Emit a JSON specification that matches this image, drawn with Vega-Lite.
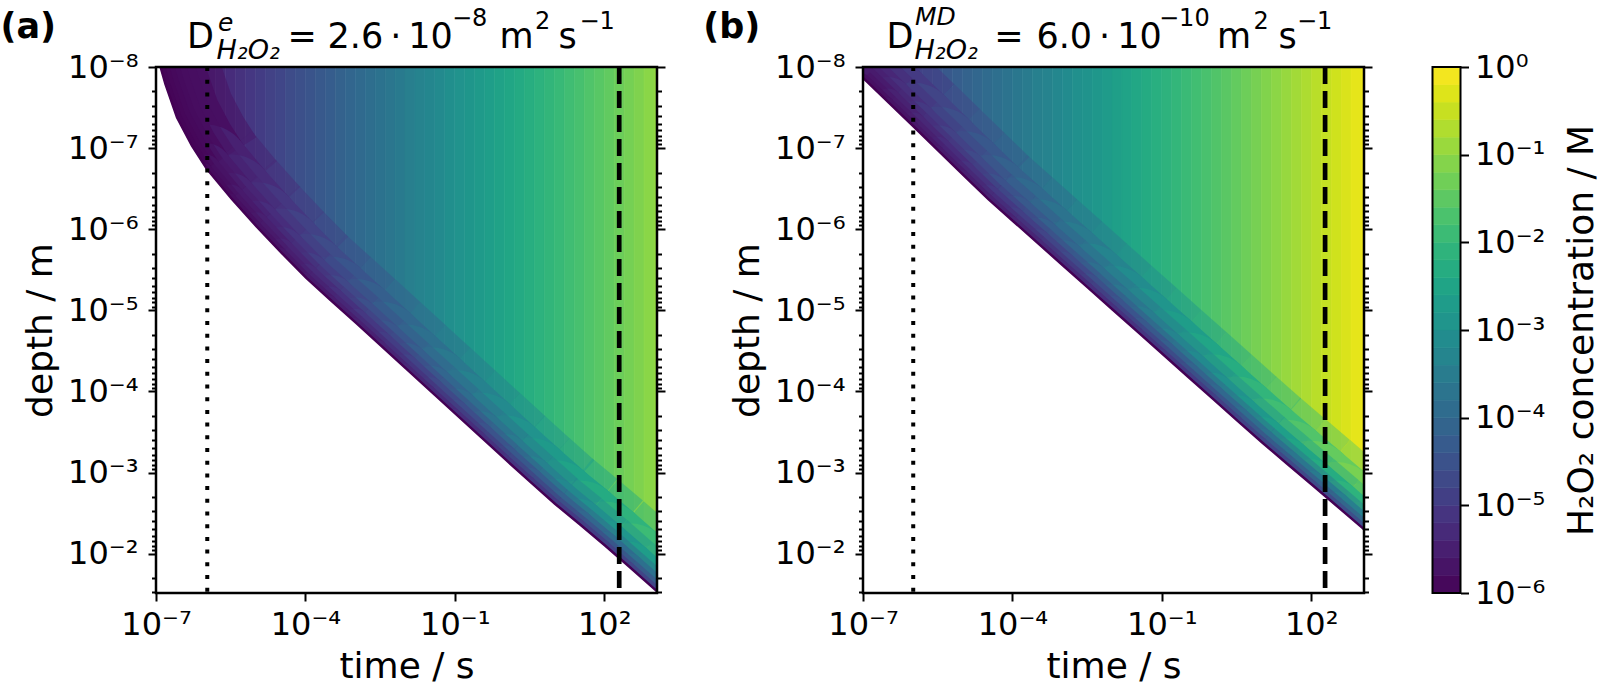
{
"$schema": "https://vega.github.io/schema/vega-lite/v6.json",
"background": "white",
"padding": {"left": 0, "top": 5, "right": 0, "bottom": 0},
"config": {
  "font": "DejaVu Sans",
  "view": {"stroke": null},
  "axis": {"labelFont": "DejaVu Sans", "titleFont": "DejaVu Sans", "labelColor": "black", "titleColor": "black", "tickColor": "black", "domain": false, "grid": false, "titleFontWeight": "normal", "labelFontSize": 32, "titleFontSize": 36, "tickWidth": 2, "labelOverlap": false, "labelFlush": false, "zindex": 1}
},
"datasets": {
  "strips": [
    {"p":"a","t0":1e-7,"t1":1.585e-7,"c":1.122e-6},{"p":"a","t0":1.585e-7,"t1":2.512e-7,"c":1.413e-6},{"p":"a","t0":2.512e-7,"t1":3.981e-7,"c":1.778e-6},{"p":"a","t0":3.981e-7,"t1":6.31e-7,"c":2.239e-6},{"p":"a","t0":6.31e-7,"t1":1e-6,"c":2.818e-6},
    {"p":"a","t0":1e-6,"t1":1.585e-6,"c":3.548e-6},{"p":"a","t0":1.585e-6,"t1":2.512e-6,"c":4.467e-6},{"p":"a","t0":2.512e-6,"t1":3.981e-6,"c":5.623e-6},{"p":"a","t0":3.981e-6,"t1":6.31e-6,"c":7.079e-6},{"p":"a","t0":6.31e-6,"t1":1e-5,"c":8.913e-6},
    {"p":"a","t0":1e-5,"t1":1.585e-5,"c":1.122e-5},{"p":"a","t0":1.585e-5,"t1":2.512e-5,"c":1.413e-5},{"p":"a","t0":2.512e-5,"t1":3.981e-5,"c":1.778e-5},{"p":"a","t0":3.981e-5,"t1":6.31e-5,"c":2.239e-5},{"p":"a","t0":6.31e-5,"t1":1e-4,"c":2.818e-5},
    {"p":"a","t0":1e-4,"t1":1.585e-4,"c":3.548e-5},{"p":"a","t0":1.585e-4,"t1":2.512e-4,"c":4.467e-5},{"p":"a","t0":2.512e-4,"t1":3.981e-4,"c":5.623e-5},{"p":"a","t0":3.981e-4,"t1":6.31e-4,"c":7.079e-5},{"p":"a","t0":6.31e-4,"t1":1e-3,"c":8.913e-5},
    {"p":"a","t0":1e-3,"t1":1.585e-3,"c":1.122e-4},{"p":"a","t0":1.585e-3,"t1":2.512e-3,"c":1.413e-4},{"p":"a","t0":2.512e-3,"t1":3.981e-3,"c":1.778e-4},{"p":"a","t0":3.981e-3,"t1":6.31e-3,"c":2.239e-4},{"p":"a","t0":6.31e-3,"t1":0.01,"c":2.818e-4},
    {"p":"a","t0":0.01,"t1":0.01585,"c":3.548e-4},{"p":"a","t0":0.01585,"t1":0.02512,"c":4.467e-4},{"p":"a","t0":0.02512,"t1":0.03981,"c":5.623e-4},{"p":"a","t0":0.03981,"t1":0.0631,"c":7.079e-4},{"p":"a","t0":0.0631,"t1":0.1,"c":8.913e-4},
    {"p":"a","t0":0.1,"t1":0.1585,"c":1.122e-3},{"p":"a","t0":0.1585,"t1":0.2512,"c":1.413e-3},{"p":"a","t0":0.2512,"t1":0.3981,"c":1.778e-3},{"p":"a","t0":0.3981,"t1":0.631,"c":2.239e-3},{"p":"a","t0":0.631,"t1":1,"c":2.818e-3},
    {"p":"a","t0":1,"t1":1.585,"c":3.548e-3},{"p":"a","t0":1.585,"t1":2.512,"c":4.467e-3},{"p":"a","t0":2.512,"t1":3.981,"c":5.623e-3},{"p":"a","t0":3.981,"t1":6.31,"c":7.079e-3},{"p":"a","t0":6.31,"t1":10,"c":8.913e-3},
    {"p":"a","t0":10,"t1":15.85,"c":0.01122},{"p":"a","t0":15.85,"t1":25.12,"c":0.01413},{"p":"a","t0":25.12,"t1":39.81,"c":0.01778},{"p":"a","t0":39.81,"t1":63.1,"c":0.02239},{"p":"a","t0":63.1,"t1":100,"c":0.02818},
    {"p":"a","t0":100,"t1":158.5,"c":0.03548},{"p":"a","t0":158.5,"t1":251.2,"c":0.04467},{"p":"a","t0":251.2,"t1":398.1,"c":0.05623},{"p":"a","t0":398.1,"t1":631,"c":0.07079},{"p":"a","t0":631,"t1":1000,"c":0.08913},
    {"p":"a","t0":1000,"t1":1148,"c":0.1035},
    {"p":"b","t0":1e-7,"t1":1.585e-7,"c":7.413e-6},{"p":"b","t0":1.585e-7,"t1":2.512e-7,"c":9.333e-6},{"p":"b","t0":2.512e-7,"t1":3.981e-7,"c":1.175e-5},{"p":"b","t0":3.981e-7,"t1":6.31e-7,"c":1.479e-5},{"p":"b","t0":6.31e-7,"t1":1e-6,"c":1.862e-5},
    {"p":"b","t0":1e-6,"t1":1.585e-6,"c":2.344e-5},{"p":"b","t0":1.585e-6,"t1":2.512e-6,"c":2.951e-5},{"p":"b","t0":2.512e-6,"t1":3.981e-6,"c":3.715e-5},{"p":"b","t0":3.981e-6,"t1":6.31e-6,"c":4.677e-5},{"p":"b","t0":6.31e-6,"t1":1e-5,"c":5.888e-5},
    {"p":"b","t0":1e-5,"t1":1.585e-5,"c":7.413e-5},{"p":"b","t0":1.585e-5,"t1":2.512e-5,"c":9.333e-5},{"p":"b","t0":2.512e-5,"t1":3.981e-5,"c":1.175e-4},{"p":"b","t0":3.981e-5,"t1":6.31e-5,"c":1.479e-4},{"p":"b","t0":6.31e-5,"t1":1e-4,"c":1.862e-4},
    {"p":"b","t0":1e-4,"t1":1.585e-4,"c":2.344e-4},{"p":"b","t0":1.585e-4,"t1":2.512e-4,"c":2.951e-4},{"p":"b","t0":2.512e-4,"t1":3.981e-4,"c":3.715e-4},{"p":"b","t0":3.981e-4,"t1":6.31e-4,"c":4.677e-4},{"p":"b","t0":6.31e-4,"t1":1e-3,"c":5.888e-4},
    {"p":"b","t0":1e-3,"t1":1.585e-3,"c":7.413e-4},{"p":"b","t0":1.585e-3,"t1":2.512e-3,"c":9.333e-4},{"p":"b","t0":2.512e-3,"t1":3.981e-3,"c":1.175e-3},{"p":"b","t0":3.981e-3,"t1":6.31e-3,"c":1.479e-3},{"p":"b","t0":6.31e-3,"t1":0.01,"c":1.862e-3},
    {"p":"b","t0":0.01,"t1":0.01585,"c":2.344e-3},{"p":"b","t0":0.01585,"t1":0.02512,"c":2.951e-3},{"p":"b","t0":0.02512,"t1":0.03981,"c":3.715e-3},{"p":"b","t0":0.03981,"t1":0.0631,"c":4.677e-3},{"p":"b","t0":0.0631,"t1":0.1,"c":5.888e-3},
    {"p":"b","t0":0.1,"t1":0.1585,"c":7.413e-3},{"p":"b","t0":0.1585,"t1":0.2512,"c":9.333e-3},{"p":"b","t0":0.2512,"t1":0.3981,"c":0.01175},{"p":"b","t0":0.3981,"t1":0.631,"c":0.01479},{"p":"b","t0":0.631,"t1":1,"c":0.01862},
    {"p":"b","t0":1,"t1":1.585,"c":0.02344},{"p":"b","t0":1.585,"t1":2.512,"c":0.02951},{"p":"b","t0":2.512,"t1":3.981,"c":0.03715},{"p":"b","t0":3.981,"t1":6.31,"c":0.04677},{"p":"b","t0":6.31,"t1":10,"c":0.05888},
    {"p":"b","t0":10,"t1":15.85,"c":0.07413},{"p":"b","t0":15.85,"t1":25.12,"c":0.09333},{"p":"b","t0":25.12,"t1":39.81,"c":0.1175},{"p":"b","t0":39.81,"t1":63.1,"c":0.1479},{"p":"b","t0":63.1,"t1":100,"c":0.1862},
    {"p":"b","t0":100,"t1":158.5,"c":0.2344},{"p":"b","t0":158.5,"t1":251.2,"c":0.2951},{"p":"b","t0":251.2,"t1":398.1,"c":0.3715},{"p":"b","t0":398.1,"t1":631,"c":0.4677},{"p":"b","t0":631,"t1":1000,"c":0.5888},
    {"p":"b","t0":1000,"t1":1148,"c":0.684}
  ],
  "band": [
    {"p":"a","s":0,"t":1e-7,"z":1e-8,"b1":1e-6,"b2":1e-6,"b3":1e-6,"b4":1e-6},
    {"p":"a","s":0,"t":1.164e-7,"z":1e-8,"b1":1e-6,"b2":1e-6,"b3":1e-6,"b4":1e-6},
    {"p":"a","s":1,"t":1.164e-7,"z":1e-8,"b1":1.66e-6,"b2":1.51e-6,"b3":1.32e-6,"b4":1.17e-6},
    {"p":"a","s":1,"t":1.466e-7,"z":1.648e-8,"b1":1.66e-6,"b2":1.51e-6,"b3":1.32e-6,"b4":1.17e-6},
    {"p":"a","s":1,"t":2.512e-7,"z":4.246e-8,"b1":1.66e-6,"b2":1.51e-6,"b3":1.32e-6,"b4":1.17e-6},
    {"p":"a","s":1,"t":5.012e-7,"z":9.506e-8,"b1":1.66e-6,"b2":1.51e-6,"b3":1.32e-6,"b4":1.17e-6},
    {"p":"a","s":1,"t":1e-6,"z":1.841e-7,"b1":1.66e-6,"b2":1.51e-6,"b3":1.32e-6,"b4":1.17e-6},
    {"p":"a","s":2,"t":1e-6,"z":1.841e-7,"b1":3.35e-6,"b2":2.66e-6,"b3":1.91e-6,"b4":1.43e-6},
    {"p":"a","s":2,"t":3.162e-6,"z":4.305e-7,"b1":3.35e-6,"b2":2.66e-6,"b3":1.91e-6,"b4":1.43e-6},
    {"p":"a","s":3,"t":3.162e-6,"z":4.305e-7,"b1":5.43e-6,"b2":3.94e-6,"b3":2.48e-6,"b4":1.66e-6},
    {"p":"a","s":3,"t":1e-5,"z":9.441e-7,"b1":5.43e-6,"b2":3.94e-6,"b3":2.48e-6,"b4":1.66e-6},
    {"p":"a","s":4,"t":1e-5,"z":9.441e-7,"b1":8.81e-6,"b2":5.82e-6,"b3":3.21e-6,"b4":1.91e-6},
    {"p":"a","s":4,"t":3.162e-5,"z":1.991e-6,"b1":8.81e-6,"b2":5.82e-6,"b3":3.21e-6,"b4":1.91e-6},
    {"p":"a","s":5,"t":3.162e-5,"z":1.991e-6,"b1":1.43e-5,"b2":8.61e-6,"b3":4.16e-6,"b4":2.21e-6},
    {"p":"a","s":5,"t":1e-4,"z":4.093e-6,"b1":1.43e-5,"b2":8.61e-6,"b3":4.16e-6,"b4":2.21e-6},
    {"p":"a","s":6,"t":1e-4,"z":4.093e-6,"b1":2.32e-5,"b2":1.27e-5,"b3":5.38e-6,"b4":2.55e-6},
    {"p":"a","s":6,"t":3.162e-4,"z":7.78e-6,"b1":2.32e-5,"b2":1.27e-5,"b3":5.38e-6,"b4":2.55e-6},
    {"p":"a","s":7,"t":3.162e-4,"z":7.78e-6,"b1":3.76e-5,"b2":1.88e-5,"b3":6.98e-6,"b4":2.94e-6},
    {"p":"a","s":7,"t":1e-3,"z":1.469e-5,"b1":3.76e-5,"b2":1.88e-5,"b3":6.98e-6,"b4":2.94e-6},
    {"p":"a","s":8,"t":1e-3,"z":1.469e-5,"b1":6.10e-5,"b2":2.79e-5,"b3":9.04e-6,"b4":3.40e-6},
    {"p":"a","s":8,"t":3.162e-3,"z":2.799e-5,"b1":6.10e-5,"b2":2.79e-5,"b3":9.04e-6,"b4":3.40e-6},
    {"p":"a","s":9,"t":3.162e-3,"z":2.799e-5,"b1":9.89e-5,"b2":4.12e-5,"b3":1.17e-5,"b4":3.93e-6},
    {"p":"a","s":9,"t":0.01,"z":5.346e-5,"b1":9.89e-5,"b2":4.12e-5,"b3":1.17e-5,"b4":3.93e-6},
    {"p":"a","s":10,"t":0.01,"z":5.346e-5,"b1":1.60e-4,"b2":6.10e-5,"b3":1.52e-5,"b4":4.53e-6},
    {"p":"a","s":10,"t":0.03162,"z":1.019e-4,"b1":1.60e-4,"b2":6.10e-5,"b3":1.52e-5,"b4":4.53e-6},
    {"p":"a","s":11,"t":0.03162,"z":1.019e-4,"b1":2.60e-4,"b2":9.02e-5,"b3":1.97e-5,"b4":5.24e-6},
    {"p":"a","s":11,"t":0.1,"z":1.945e-4,"b1":2.60e-4,"b2":9.02e-5,"b3":1.97e-5,"b4":5.24e-6},
    {"p":"a","s":12,"t":0.1,"z":1.945e-4,"b1":4.22e-4,"b2":1.33e-4,"b3":2.55e-5,"b4":6.04e-6},
    {"p":"a","s":12,"t":0.3162,"z":3.707e-4,"b1":4.22e-4,"b2":1.33e-4,"b3":2.55e-5,"b4":6.04e-6},
    {"p":"a","s":13,"t":0.3162,"z":3.707e-4,"b1":6.84e-4,"b2":1.97e-4,"b3":3.30e-5,"b4":6.98e-6},
    {"p":"a","s":13,"t":1,"z":7.079e-4,"b1":6.84e-4,"b2":1.97e-4,"b3":3.30e-5,"b4":6.98e-6},
    {"p":"a","s":14,"t":1,"z":7.079e-4,"b1":1.11e-3,"b2":2.92e-4,"b3":4.28e-5,"b4":8.05e-6},
    {"p":"a","s":14,"t":3.162,"z":1.337e-3,"b1":1.11e-3,"b2":2.92e-4,"b3":4.28e-5,"b4":8.05e-6},
    {"p":"a","s":15,"t":3.162,"z":1.337e-3,"b1":1.80e-3,"b2":4.32e-4,"b3":5.55e-5,"b4":9.31e-6},
    {"p":"a","s":15,"t":10,"z":2.512e-3,"b1":1.80e-3,"b2":4.32e-4,"b3":5.55e-5,"b4":9.31e-6},
    {"p":"a","s":16,"t":10,"z":2.512e-3,"b1":2.92e-3,"b2":6.38e-4,"b3":7.18e-5,"b4":1.07e-5},
    {"p":"a","s":16,"t":31.62,"z":4.487e-3,"b1":2.92e-3,"b2":6.38e-4,"b3":7.18e-5,"b4":1.07e-5},
    {"p":"a","s":17,"t":31.62,"z":4.487e-3,"b1":4.73e-3,"b2":9.44e-4,"b3":9.31e-5,"b4":1.24e-5},
    {"p":"a","s":17,"t":100,"z":8.147e-3,"b1":4.73e-3,"b2":9.44e-4,"b3":9.31e-5,"b4":1.24e-5},
    {"p":"a","s":18,"t":100,"z":8.147e-3,"b1":7.67e-3,"b2":1.40e-3,"b3":1.21e-4,"b4":1.43e-5},
    {"p":"a","s":18,"t":316.2,"z":0.01514,"b1":7.67e-3,"b2":1.40e-3,"b3":1.21e-4,"b4":1.43e-5},
    {"p":"a","s":19,"t":316.2,"z":0.01514,"b1":0.01245,"b2":2.07e-3,"b3":1.56e-4,"b4":1.66e-5},
    {"p":"a","s":19,"t":1000,"z":0.02831,"b1":0.01245,"b2":2.07e-3,"b3":1.56e-4,"b4":1.66e-5},
    {"p":"a","s":20,"t":1000,"z":0.02831,"b1":0.01633,"b2":2.57e-3,"b3":1.81e-4,"b4":1.79e-5},
    {"p":"a","s":20,"t":1148,"z":0.03055,"b1":0.01633,"b2":2.57e-3,"b3":1.81e-4,"b4":1.79e-5},
    {"p":"b","s":0,"t":1e-7,"z":1.429e-8,"b1":6.22e-6,"b2":4.40e-6,"b3":2.66e-6,"b4":1.72e-6},
    {"p":"b","s":0,"t":3.162e-7,"z":2.818e-8,"b1":6.22e-6,"b2":4.40e-6,"b3":2.66e-6,"b4":1.72e-6},
    {"p":"b","s":1,"t":3.162e-7,"z":2.818e-8,"b1":1.009e-5,"b2":6.50e-6,"b3":3.45e-6,"b4":1.99e-6},
    {"p":"b","s":1,"t":1e-6,"z":5.559e-8,"b1":1.009e-5,"b2":6.50e-6,"b3":3.45e-6,"b4":1.99e-6},
    {"p":"b","s":2,"t":1e-6,"z":5.559e-8,"b1":1.64e-5,"b2":9.62e-6,"b3":4.47e-6,"b4":2.30e-6},
    {"p":"b","s":2,"t":3.162e-6,"z":1.109e-7,"b1":1.64e-5,"b2":9.62e-6,"b3":4.47e-6,"b4":2.30e-6},
    {"p":"b","s":3,"t":3.162e-6,"z":1.109e-7,"b1":2.65e-5,"b2":1.42e-5,"b3":5.79e-6,"b4":2.65e-6},
    {"p":"b","s":3,"t":1e-5,"z":2.203e-7,"b1":2.65e-5,"b2":1.42e-5,"b3":5.79e-6,"b4":2.65e-6},
    {"p":"b","s":4,"t":1e-5,"z":2.203e-7,"b1":4.31e-5,"b2":2.10e-5,"b3":7.50e-6,"b4":3.06e-6},
    {"p":"b","s":4,"t":3.162e-5,"z":4.365e-7,"b1":4.31e-5,"b2":2.10e-5,"b3":7.50e-6,"b4":3.06e-6},
    {"p":"b","s":5,"t":3.162e-5,"z":4.365e-7,"b1":6.98e-5,"b2":3.11e-5,"b3":9.72e-6,"b4":3.54e-6},
    {"p":"b","s":5,"t":1e-4,"z":8.185e-7,"b1":6.98e-5,"b2":3.11e-5,"b3":9.72e-6,"b4":3.54e-6},
    {"p":"b","s":6,"t":1e-4,"z":8.185e-7,"b1":1.13e-4,"b2":4.60e-5,"b3":1.26e-5,"b4":4.08e-6},
    {"p":"b","s":6,"t":3.162e-4,"z":1.535e-6,"b1":1.13e-4,"b2":4.60e-5,"b3":1.26e-5,"b4":4.08e-6},
    {"p":"b","s":7,"t":3.162e-4,"z":1.535e-6,"b1":1.84e-4,"b2":6.81e-5,"b3":1.63e-5,"b4":4.72e-6},
    {"p":"b","s":7,"t":1e-3,"z":2.877e-6,"b1":1.84e-4,"b2":6.81e-5,"b3":1.63e-5,"b4":4.72e-6},
    {"p":"b","s":8,"t":1e-3,"z":2.877e-6,"b1":2.98e-4,"b2":1.007e-4,"b3":2.11e-5,"b4":5.44e-6},
    {"p":"b","s":8,"t":3.162e-3,"z":5.395e-6,"b1":2.98e-4,"b2":1.007e-4,"b3":2.11e-5,"b4":5.44e-6},
    {"p":"b","s":9,"t":3.162e-3,"z":5.395e-6,"b1":4.83e-4,"b2":1.49e-4,"b3":2.74e-5,"b4":6.30e-6},
    {"p":"b","s":9,"t":0.01,"z":1.012e-5,"b1":4.83e-4,"b2":1.49e-4,"b3":2.74e-5,"b4":6.30e-6},
    {"p":"b","s":10,"t":0.01,"z":1.012e-5,"b1":7.83e-4,"b2":2.20e-4,"b3":3.55e-5,"b4":7.26e-6},
    {"p":"b","s":10,"t":0.03162,"z":1.897e-5,"b1":7.83e-4,"b2":2.20e-4,"b3":3.55e-5,"b4":7.26e-6},
    {"p":"b","s":11,"t":0.03162,"z":1.897e-5,"b1":1.27e-3,"b2":3.26e-4,"b3":4.60e-5,"b4":8.39e-6},
    {"p":"b","s":11,"t":0.1,"z":3.556e-5,"b1":1.27e-3,"b2":3.26e-4,"b3":4.60e-5,"b4":8.39e-6},
    {"p":"b","s":12,"t":0.1,"z":3.556e-5,"b1":2.06e-3,"b2":4.82e-4,"b3":5.96e-5,"b4":9.68e-6},
    {"p":"b","s":12,"t":0.3162,"z":6.668e-5,"b1":2.06e-3,"b2":4.82e-4,"b3":5.96e-5,"b4":9.68e-6},
    {"p":"b","s":13,"t":0.3162,"z":6.668e-5,"b1":3.34e-3,"b2":7.13e-4,"b3":7.73e-5,"b4":1.12e-5},
    {"p":"b","s":13,"t":1,"z":1.253e-4,"b1":3.34e-3,"b2":7.13e-4,"b3":7.73e-5,"b4":1.12e-5},
    {"p":"b","s":14,"t":1,"z":1.253e-4,"b1":5.42e-3,"b2":1.055e-3,"b3":1.0e-4,"b4":1.29e-5},
    {"p":"b","s":14,"t":3.162,"z":2.35e-4,"b1":5.42e-3,"b2":1.055e-3,"b3":1.0e-4,"b4":1.29e-5},
    {"p":"b","s":15,"t":3.162,"z":2.35e-4,"b1":8.79e-3,"b2":1.56e-3,"b3":1.30e-4,"b4":1.49e-5},
    {"p":"b","s":15,"t":10,"z":4.385e-4,"b1":8.79e-3,"b2":1.56e-3,"b3":1.30e-4,"b4":1.49e-5},
    {"p":"b","s":16,"t":10,"z":4.385e-4,"b1":0.0143,"b2":2.31e-3,"b3":1.68e-4,"b4":1.72e-5},
    {"p":"b","s":16,"t":31.62,"z":8.0e-4,"b1":0.0143,"b2":2.31e-3,"b3":1.68e-4,"b4":1.72e-5},
    {"p":"b","s":17,"t":31.62,"z":8.0e-4,"b1":0.0231,"b2":3.41e-3,"b3":2.18e-4,"b4":1.99e-5},
    {"p":"b","s":17,"t":100,"z":1.455e-3,"b1":0.0231,"b2":3.41e-3,"b3":2.18e-4,"b4":1.99e-5},
    {"p":"b","s":18,"t":100,"z":1.455e-3,"b1":0.0375,"b2":5.05e-3,"b3":2.82e-4,"b4":2.30e-5},
    {"p":"b","s":18,"t":316.2,"z":2.661e-3,"b1":0.0375,"b2":5.05e-3,"b3":2.82e-4,"b4":2.30e-5},
    {"p":"b","s":19,"t":316.2,"z":2.661e-3,"b1":0.0608,"b2":7.46e-3,"b3":3.66e-4,"b4":2.65e-5},
    {"p":"b","s":19,"t":1000,"z":4.875e-3,"b1":0.0608,"b2":7.46e-3,"b3":3.66e-4,"b4":2.65e-5},
    {"p":"b","s":20,"t":1000,"z":4.875e-3,"b1":0.0796,"b2":9.29e-3,"b3":4.23e-4,"b4":2.88e-5},
    {"p":"b","s":20,"t":1148,"z":5.248e-3,"b1":0.0796,"b2":9.29e-3,"b3":4.23e-4,"b4":2.88e-5}
  ],
  "cbar": [
    {"c0":1e-6,"c1":1.585e-6,"c":1.259e-6},{"c0":1.585e-6,"c1":2.512e-6,"c":1.995e-6},{"c0":2.512e-6,"c1":3.981e-6,"c":3.162e-6},{"c0":3.981e-6,"c1":6.31e-6,"c":5.012e-6},{"c0":6.31e-6,"c1":1e-5,"c":7.943e-6},
    {"c0":1e-5,"c1":1.585e-5,"c":1.259e-5},{"c0":1.585e-5,"c1":2.512e-5,"c":1.995e-5},{"c0":2.512e-5,"c1":3.981e-5,"c":3.162e-5},{"c0":3.981e-5,"c1":6.31e-5,"c":5.012e-5},{"c0":6.31e-5,"c1":1e-4,"c":7.943e-5},
    {"c0":1e-4,"c1":1.585e-4,"c":1.259e-4},{"c0":1.585e-4,"c1":2.512e-4,"c":1.995e-4},{"c0":2.512e-4,"c1":3.981e-4,"c":3.162e-4},{"c0":3.981e-4,"c1":6.31e-4,"c":5.012e-4},{"c0":6.31e-4,"c1":1e-3,"c":7.943e-4},
    {"c0":1e-3,"c1":1.585e-3,"c":1.259e-3},{"c0":1.585e-3,"c1":2.512e-3,"c":1.995e-3},{"c0":2.512e-3,"c1":3.981e-3,"c":3.162e-3},{"c0":3.981e-3,"c1":6.31e-3,"c":5.012e-3},{"c0":6.31e-3,"c1":0.01,"c":7.943e-3},
    {"c0":0.01,"c1":0.01585,"c":0.01259},{"c0":0.01585,"c1":0.02512,"c":0.01995},{"c0":0.02512,"c1":0.03981,"c":0.03162},{"c0":0.03981,"c1":0.0631,"c":0.05012},{"c0":0.0631,"c1":0.1,"c":0.07943},
    {"c0":0.1,"c1":0.1585,"c":0.1259},{"c0":0.1585,"c1":0.2512,"c":0.1995},{"c0":0.2512,"c1":0.3981,"c":0.3162},{"c0":0.3981,"c1":0.631,"c":0.5012},{"c0":0.631,"c1":1,"c":0.7943}
  ]
},
"spacing": 68.5,
"bounds": "flush",
"hconcat": [
  {
    "width": 501, "height": 526,
    "resolve": {"axis": {"x": "independent", "y": "independent"}},
    "layer": [
      {"data": {"name": "strips"}, "transform": [{"filter": "datum.p === 'a'"}],
       "mark": {"type": "rect", "strokeWidth": 0.6},
       "encoding": {
         "x": {"field": "t0", "type": "quantitative", "scale": {"type": "log", "domain": [1e-7, 1148], "nice": false}, "axis": null},
         "x2": {"field": "t1"},
         "y": {"datum": 1e-8, "type": "quantitative", "scale": {"type": "log", "domain": [1e-8, 0.0306], "nice": false, "reverse": true}, "axis": null},
         "y2": {"datum": 0.0306},
         "color": {"field": "c", "type": "quantitative", "scale": {"type": "log", "domain": [1e-6, 1], "scheme": "viridis"}, "legend": null},
         "stroke": {"field": "c", "type": "quantitative", "scale": {"type": "log", "domain": [1e-6, 1], "scheme": "viridis"}, "legend": null}}},
      {"data": {"name": "band"}, "transform": [{"filter": "datum.p === 'a'"}],
       "mark": {"type": "line", "strokeWidth": 120, "opacity": 0.5, "strokeCap": "butt", "strokeJoin": "round", "clip": true},
       "encoding": {"x": {"field": "t", "type": "quantitative", "axis": null}, "y": {"field": "z", "type": "quantitative", "axis": null}, "detail": {"field": "s", "type": "nominal"}, "order": {"field": "t"}, "color": {"field": "b1", "type": "quantitative", "scale": {"type": "log", "domain": [1e-6, 1], "scheme": "viridis"}, "legend": null}}},
      {"data": {"name": "band"}, "transform": [{"filter": "datum.p === 'a'"}],
       "mark": {"type": "line", "strokeWidth": 90, "strokeCap": "round", "strokeJoin": "round", "clip": true},
       "encoding": {"x": {"field": "t", "type": "quantitative", "axis": null}, "y": {"field": "z", "type": "quantitative", "axis": null}, "detail": {"field": "s", "type": "nominal"}, "order": {"field": "t"}, "color": {"field": "b1", "type": "quantitative", "scale": {"type": "log", "domain": [1e-6, 1], "scheme": "viridis"}, "legend": null}}},
      {"data": {"name": "band"}, "transform": [{"filter": "datum.p === 'a'"}],
       "mark": {"type": "line", "strokeWidth": 70, "opacity": 0.5, "strokeCap": "butt", "strokeJoin": "round", "clip": true},
       "encoding": {"x": {"field": "t", "type": "quantitative", "axis": null}, "y": {"field": "z", "type": "quantitative", "axis": null}, "detail": {"field": "s", "type": "nominal"}, "order": {"field": "t"}, "color": {"field": "b2", "type": "quantitative", "scale": {"type": "log", "domain": [1e-6, 1], "scheme": "viridis"}, "legend": null}}},
      {"data": {"name": "band"}, "transform": [{"filter": "datum.p === 'a'"}],
       "mark": {"type": "line", "strokeWidth": 53, "strokeCap": "round", "strokeJoin": "round", "clip": true},
       "encoding": {"x": {"field": "t", "type": "quantitative", "axis": null}, "y": {"field": "z", "type": "quantitative", "axis": null}, "detail": {"field": "s", "type": "nominal"}, "order": {"field": "t"}, "color": {"field": "b2", "type": "quantitative", "scale": {"type": "log", "domain": [1e-6, 1], "scheme": "viridis"}, "legend": null}}},
      {"data": {"name": "band"}, "transform": [{"filter": "datum.p === 'a'"}],
       "mark": {"type": "line", "strokeWidth": 40, "opacity": 0.5, "strokeCap": "butt", "strokeJoin": "round", "clip": true},
       "encoding": {"x": {"field": "t", "type": "quantitative", "axis": null}, "y": {"field": "z", "type": "quantitative", "axis": null}, "detail": {"field": "s", "type": "nominal"}, "order": {"field": "t"}, "color": {"field": "b3", "type": "quantitative", "scale": {"type": "log", "domain": [1e-6, 1], "scheme": "viridis"}, "legend": null}}},
      {"data": {"name": "band"}, "transform": [{"filter": "datum.p === 'a'"}],
       "mark": {"type": "line", "strokeWidth": 30, "strokeCap": "round", "strokeJoin": "round", "clip": true},
       "encoding": {"x": {"field": "t", "type": "quantitative", "axis": null}, "y": {"field": "z", "type": "quantitative", "axis": null}, "detail": {"field": "s", "type": "nominal"}, "order": {"field": "t"}, "color": {"field": "b3", "type": "quantitative", "scale": {"type": "log", "domain": [1e-6, 1], "scheme": "viridis"}, "legend": null}}},
      {"data": {"name": "band"}, "transform": [{"filter": "datum.p === 'a'"}],
       "mark": {"type": "line", "strokeWidth": 20, "opacity": 0.5, "strokeCap": "butt", "strokeJoin": "round", "clip": true},
       "encoding": {"x": {"field": "t", "type": "quantitative", "axis": null}, "y": {"field": "z", "type": "quantitative", "axis": null}, "detail": {"field": "s", "type": "nominal"}, "order": {"field": "t"}, "color": {"field": "b4", "type": "quantitative", "scale": {"type": "log", "domain": [1e-6, 1], "scheme": "viridis"}, "legend": null}}},
      {"data": {"name": "band"}, "transform": [{"filter": "datum.p === 'a'"}],
       "mark": {"type": "line", "strokeWidth": 12, "strokeCap": "round", "strokeJoin": "round", "clip": true},
       "encoding": {"x": {"field": "t", "type": "quantitative", "axis": null}, "y": {"field": "z", "type": "quantitative", "axis": null}, "detail": {"field": "s", "type": "nominal"}, "order": {"field": "t"}, "color": {"field": "b4", "type": "quantitative", "scale": {"type": "log", "domain": [1e-6, 1], "scheme": "viridis"}, "legend": null}}},
      {"data": {"name": "band"}, "transform": [{"filter": "datum.p === 'a'"}],
       "mark": {"type": "line", "strokeWidth": 5, "strokeCap": "round", "strokeJoin": "round", "clip": true},
       "encoding": {"x": {"field": "t", "type": "quantitative", "axis": null},
         "y": {"field": "z", "type": "quantitative", "axis": {"orient": "right", "values": [1e-8,2e-8,3e-8,4e-8,5e-8,6e-8,7e-8,8e-8,9e-8,1e-7,2e-7,3e-7,4e-7,5e-7,6e-7,7e-7,8e-7,9e-7,1e-6,2e-6,3e-6,4e-6,5e-6,6e-6,7e-6,8e-6,9e-6,1e-5,2e-5,3e-5,4e-5,5e-5,6e-5,7e-5,8e-5,9e-5,1e-4,2e-4,3e-4,4e-4,5e-4,6e-4,7e-4,8e-4,9e-4,0.001,0.002,0.003,0.004,0.005,0.006,0.007,0.008,0.009,0.01,0.02,0.03], "labels": false, "title": null, "tickSize": {"condition": {"test": "abs(log(datum.value)/LN10-round(log(datum.value)/LN10))<0.01", "value": 8}, "value": 4.5}}},
         "order": {"field": "t"}, "color": {"datum": 1e-6, "type": "quantitative", "scale": {"type": "log", "domain": [1e-6, 1], "scheme": "viridis"}, "legend": null}}},
      {"data": {"name": "band"}, "transform": [{"filter": "datum.p === 'a'"}],
       "mark": {"type": "area", "fill": "white", "fillOpacity": 1, "opacity": 1, "clip": true},
       "encoding": {
         "x": {"field": "t", "type": "quantitative", "axis": {"orient": "bottom", "values": [1e-7, 1e-4, 0.1, 100], "labelExpr": "datum.value < 1e-6 ? '10⁻⁷' : datum.value < 1e-3 ? '10⁻⁴' : datum.value < 1 ? '10⁻¹' : '10²'", "tickSize": 8, "labelPadding": 8, "title": "time / s", "titlePadding": 9}},
         "y": {"field": "z", "type": "quantitative", "axis": {"orient": "left", "values": [1e-8,2e-8,3e-8,4e-8,5e-8,6e-8,7e-8,8e-8,9e-8,1e-7,2e-7,3e-7,4e-7,5e-7,6e-7,7e-7,8e-7,9e-7,1e-6,2e-6,3e-6,4e-6,5e-6,6e-6,7e-6,8e-6,9e-6,1e-5,2e-5,3e-5,4e-5,5e-5,6e-5,7e-5,8e-5,9e-5,1e-4,2e-4,3e-4,4e-4,5e-4,6e-4,7e-4,8e-4,9e-4,0.001,0.002,0.003,0.004,0.005,0.006,0.007,0.008,0.009,0.01,0.02,0.03], "labelExpr": "abs(log(datum.value)/LN10-round(log(datum.value)/LN10))<0.01 ? ['10⁻⁸','10⁻⁷','10⁻⁶','10⁻⁵','10⁻⁴','10⁻³','10⁻²'][round(log(datum.value)/LN10)+8] : ''", "tickSize": {"condition": {"test": "abs(log(datum.value)/LN10-round(log(datum.value)/LN10))<0.01", "value": 8}, "value": 4.5}, "labelPadding": 10, "title": "depth / m", "titlePadding": 8}},
         "y2": {"datum": 0.0306}}},
      {"data": {"values": [{}]}, "mark": {"type": "rule", "color": "black", "strokeWidth": 4, "strokeDash": [4, 8.7]}, "encoding": {"x": {"datum": 1.07e-6, "axis": null}}},
      {"data": {"values": [{}]}, "mark": {"type": "rule", "color": "black", "strokeWidth": 4.7, "strokeDash": [17, 7]}, "encoding": {"x": {"datum": 200, "axis": null}}},
      {"data": {"values": [{}]}, "mark": {"type": "rect", "filled": false, "color": "black", "strokeWidth": 2.5}, "encoding": {}},
      {"data": {"values": [{}]}, "mark": {"type": "text", "text": "(a)", "fontSize": 35, "fontWeight": "bold", "align": "left", "baseline": "alphabetic", "dx": -155.5, "dy": -29, "color": "black"}, "encoding": {"x": {"datum": 1e-7, "axis": null}, "y": {"datum": 1e-8, "axis": null}}},
      {"data": {"values": [{}]}, "mark": {"type": "text", "text": "D", "fontSize": 35, "align": "left", "baseline": "alphabetic", "dx": 30.9, "dy": -18.7, "color": "black"}, "encoding": {"x": {"datum": 1e-7, "axis": null}, "y": {"datum": 1e-8, "axis": null}}},
      {"data": {"values": [{}]}, "mark": {"type": "text", "text": "e", "fontSize": 25, "fontStyle": "italic", "align": "left", "baseline": "alphabetic", "dx": 62, "dy": -35.7, "color": "black"}, "encoding": {"x": {"datum": 1e-7, "axis": null}, "y": {"datum": 1e-8, "axis": null}}},
      {"data": {"values": [{}]}, "mark": {"type": "text", "text": "H₂O₂", "fontSize": 27, "fontStyle": "italic", "align": "left", "baseline": "alphabetic", "dx": 60.5, "dy": -7.7, "color": "black"}, "encoding": {"x": {"datum": 1e-7, "axis": null}, "y": {"datum": 1e-8, "axis": null}}},
      {"data": {"values": [{}]}, "mark": {"type": "text", "text": "=", "fontSize": 35, "align": "left", "baseline": "alphabetic", "dx": 131.5, "dy": -18.7, "color": "black"}, "encoding": {"x": {"datum": 1e-7, "axis": null}, "y": {"datum": 1e-8, "axis": null}}},
      {"data": {"values": [{}]}, "mark": {"type": "text", "text": "2.6\u2009·\u200910", "fontSize": 35, "align": "left", "baseline": "alphabetic", "dx": 171.5, "dy": -18.7, "color": "black"}, "encoding": {"x": {"datum": 1e-7, "axis": null}, "y": {"datum": 1e-8, "axis": null}}},
      {"data": {"values": [{}]}, "mark": {"type": "text", "text": "−8", "fontSize": 24, "align": "left", "baseline": "alphabetic", "dx": 296, "dy": -40.7, "color": "black"}, "encoding": {"x": {"datum": 1e-7, "axis": null}, "y": {"datum": 1e-8, "axis": null}}},
      {"data": {"values": [{}]}, "mark": {"type": "text", "text": "m", "fontSize": 35, "align": "left", "baseline": "alphabetic", "dx": 343.5, "dy": -18.7, "color": "black"}, "encoding": {"x": {"datum": 1e-7, "axis": null}, "y": {"datum": 1e-8, "axis": null}}},
      {"data": {"values": [{}]}, "mark": {"type": "text", "text": "2", "fontSize": 24, "align": "left", "baseline": "alphabetic", "dx": 379, "dy": -37.7, "color": "black"}, "encoding": {"x": {"datum": 1e-7, "axis": null}, "y": {"datum": 1e-8, "axis": null}}},
      {"data": {"values": [{}]}, "mark": {"type": "text", "text": "s", "fontSize": 35, "align": "left", "baseline": "alphabetic", "dx": 402.5, "dy": -18.7, "color": "black"}, "encoding": {"x": {"datum": 1e-7, "axis": null}, "y": {"datum": 1e-8, "axis": null}}},
      {"data": {"values": [{}]}, "mark": {"type": "text", "text": "−1", "fontSize": 24, "align": "left", "baseline": "alphabetic", "dx": 423.5, "dy": -37.7, "color": "black"}, "encoding": {"x": {"datum": 1e-7, "axis": null}, "y": {"datum": 1e-8, "axis": null}}}
    ]
  },
  {"width": 69, "height": 526, "data": {"values": []}, "mark": "point"},
  {
    "width": 501, "height": 526,
    "resolve": {"axis": {"x": "independent", "y": "independent"}},
    "layer": [
      {"data": {"name": "strips"}, "transform": [{"filter": "datum.p === 'b'"}],
       "mark": {"type": "rect", "strokeWidth": 0.6},
       "encoding": {
         "x": {"field": "t0", "type": "quantitative", "scale": {"type": "log", "domain": [1e-7, 1148], "nice": false}, "axis": null},
         "x2": {"field": "t1"},
         "y": {"datum": 1e-8, "type": "quantitative", "scale": {"type": "log", "domain": [1e-8, 0.0306], "nice": false, "reverse": true}, "axis": null},
         "y2": {"datum": 0.0306},
         "color": {"field": "c", "type": "quantitative", "scale": {"type": "log", "domain": [1e-6, 1], "scheme": "viridis"}, "legend": null},
         "stroke": {"field": "c", "type": "quantitative", "scale": {"type": "log", "domain": [1e-6, 1], "scheme": "viridis"}, "legend": null}}},
      {"data": {"name": "band"}, "transform": [{"filter": "datum.p === 'b'"}],
       "mark": {"type": "line", "strokeWidth": 120, "opacity": 0.5, "strokeCap": "butt", "strokeJoin": "round", "clip": true},
       "encoding": {"x": {"field": "t", "type": "quantitative", "axis": null}, "y": {"field": "z", "type": "quantitative", "axis": null}, "detail": {"field": "s", "type": "nominal"}, "order": {"field": "t"}, "color": {"field": "b1", "type": "quantitative", "scale": {"type": "log", "domain": [1e-6, 1], "scheme": "viridis"}, "legend": null}}},
      {"data": {"name": "band"}, "transform": [{"filter": "datum.p === 'b'"}],
       "mark": {"type": "line", "strokeWidth": 90, "strokeCap": "round", "strokeJoin": "round", "clip": true},
       "encoding": {"x": {"field": "t", "type": "quantitative", "axis": null}, "y": {"field": "z", "type": "quantitative", "axis": null}, "detail": {"field": "s", "type": "nominal"}, "order": {"field": "t"}, "color": {"field": "b1", "type": "quantitative", "scale": {"type": "log", "domain": [1e-6, 1], "scheme": "viridis"}, "legend": null}}},
      {"data": {"name": "band"}, "transform": [{"filter": "datum.p === 'b'"}],
       "mark": {"type": "line", "strokeWidth": 70, "opacity": 0.5, "strokeCap": "butt", "strokeJoin": "round", "clip": true},
       "encoding": {"x": {"field": "t", "type": "quantitative", "axis": null}, "y": {"field": "z", "type": "quantitative", "axis": null}, "detail": {"field": "s", "type": "nominal"}, "order": {"field": "t"}, "color": {"field": "b2", "type": "quantitative", "scale": {"type": "log", "domain": [1e-6, 1], "scheme": "viridis"}, "legend": null}}},
      {"data": {"name": "band"}, "transform": [{"filter": "datum.p === 'b'"}],
       "mark": {"type": "line", "strokeWidth": 53, "strokeCap": "round", "strokeJoin": "round", "clip": true},
       "encoding": {"x": {"field": "t", "type": "quantitative", "axis": null}, "y": {"field": "z", "type": "quantitative", "axis": null}, "detail": {"field": "s", "type": "nominal"}, "order": {"field": "t"}, "color": {"field": "b2", "type": "quantitative", "scale": {"type": "log", "domain": [1e-6, 1], "scheme": "viridis"}, "legend": null}}},
      {"data": {"name": "band"}, "transform": [{"filter": "datum.p === 'b'"}],
       "mark": {"type": "line", "strokeWidth": 40, "opacity": 0.5, "strokeCap": "butt", "strokeJoin": "round", "clip": true},
       "encoding": {"x": {"field": "t", "type": "quantitative", "axis": null}, "y": {"field": "z", "type": "quantitative", "axis": null}, "detail": {"field": "s", "type": "nominal"}, "order": {"field": "t"}, "color": {"field": "b3", "type": "quantitative", "scale": {"type": "log", "domain": [1e-6, 1], "scheme": "viridis"}, "legend": null}}},
      {"data": {"name": "band"}, "transform": [{"filter": "datum.p === 'b'"}],
       "mark": {"type": "line", "strokeWidth": 30, "strokeCap": "round", "strokeJoin": "round", "clip": true},
       "encoding": {"x": {"field": "t", "type": "quantitative", "axis": null}, "y": {"field": "z", "type": "quantitative", "axis": null}, "detail": {"field": "s", "type": "nominal"}, "order": {"field": "t"}, "color": {"field": "b3", "type": "quantitative", "scale": {"type": "log", "domain": [1e-6, 1], "scheme": "viridis"}, "legend": null}}},
      {"data": {"name": "band"}, "transform": [{"filter": "datum.p === 'b'"}],
       "mark": {"type": "line", "strokeWidth": 20, "opacity": 0.5, "strokeCap": "butt", "strokeJoin": "round", "clip": true},
       "encoding": {"x": {"field": "t", "type": "quantitative", "axis": null}, "y": {"field": "z", "type": "quantitative", "axis": null}, "detail": {"field": "s", "type": "nominal"}, "order": {"field": "t"}, "color": {"field": "b4", "type": "quantitative", "scale": {"type": "log", "domain": [1e-6, 1], "scheme": "viridis"}, "legend": null}}},
      {"data": {"name": "band"}, "transform": [{"filter": "datum.p === 'b'"}],
       "mark": {"type": "line", "strokeWidth": 12, "strokeCap": "round", "strokeJoin": "round", "clip": true},
       "encoding": {"x": {"field": "t", "type": "quantitative", "axis": null}, "y": {"field": "z", "type": "quantitative", "axis": null}, "detail": {"field": "s", "type": "nominal"}, "order": {"field": "t"}, "color": {"field": "b4", "type": "quantitative", "scale": {"type": "log", "domain": [1e-6, 1], "scheme": "viridis"}, "legend": null}}},
      {"data": {"name": "band"}, "transform": [{"filter": "datum.p === 'b'"}],
       "mark": {"type": "line", "strokeWidth": 5, "strokeCap": "round", "strokeJoin": "round", "clip": true},
       "encoding": {"x": {"field": "t", "type": "quantitative", "axis": null},
         "y": {"field": "z", "type": "quantitative", "axis": {"orient": "right", "values": [1e-8,2e-8,3e-8,4e-8,5e-8,6e-8,7e-8,8e-8,9e-8,1e-7,2e-7,3e-7,4e-7,5e-7,6e-7,7e-7,8e-7,9e-7,1e-6,2e-6,3e-6,4e-6,5e-6,6e-6,7e-6,8e-6,9e-6,1e-5,2e-5,3e-5,4e-5,5e-5,6e-5,7e-5,8e-5,9e-5,1e-4,2e-4,3e-4,4e-4,5e-4,6e-4,7e-4,8e-4,9e-4,0.001,0.002,0.003,0.004,0.005,0.006,0.007,0.008,0.009,0.01,0.02,0.03], "labels": false, "title": null, "tickSize": {"condition": {"test": "abs(log(datum.value)/LN10-round(log(datum.value)/LN10))<0.01", "value": 8}, "value": 4.5}}},
         "order": {"field": "t"}, "color": {"datum": 1e-6, "type": "quantitative", "scale": {"type": "log", "domain": [1e-6, 1], "scheme": "viridis"}, "legend": null}}},
      {"data": {"name": "band"}, "transform": [{"filter": "datum.p === 'b'"}],
       "mark": {"type": "area", "fill": "white", "fillOpacity": 1, "opacity": 1, "clip": true},
       "encoding": {
         "x": {"field": "t", "type": "quantitative", "axis": {"orient": "bottom", "values": [1e-7, 1e-4, 0.1, 100], "labelExpr": "datum.value < 1e-6 ? '10⁻⁷' : datum.value < 1e-3 ? '10⁻⁴' : datum.value < 1 ? '10⁻¹' : '10²'", "tickSize": 8, "labelPadding": 8, "title": "time / s", "titlePadding": 9}},
         "y": {"field": "z", "type": "quantitative", "axis": {"orient": "left", "values": [1e-8,2e-8,3e-8,4e-8,5e-8,6e-8,7e-8,8e-8,9e-8,1e-7,2e-7,3e-7,4e-7,5e-7,6e-7,7e-7,8e-7,9e-7,1e-6,2e-6,3e-6,4e-6,5e-6,6e-6,7e-6,8e-6,9e-6,1e-5,2e-5,3e-5,4e-5,5e-5,6e-5,7e-5,8e-5,9e-5,1e-4,2e-4,3e-4,4e-4,5e-4,6e-4,7e-4,8e-4,9e-4,0.001,0.002,0.003,0.004,0.005,0.006,0.007,0.008,0.009,0.01,0.02,0.03], "labelExpr": "abs(log(datum.value)/LN10-round(log(datum.value)/LN10))<0.01 ? ['10⁻⁸','10⁻⁷','10⁻⁶','10⁻⁵','10⁻⁴','10⁻³','10⁻²'][round(log(datum.value)/LN10)+8] : ''", "tickSize": {"condition": {"test": "abs(log(datum.value)/LN10-round(log(datum.value)/LN10))<0.01", "value": 8}, "value": 4.5}, "labelPadding": 10, "title": "depth / m", "titlePadding": 8}},
         "y2": {"datum": 0.0306}}},
      {"data": {"values": [{}]}, "mark": {"type": "rule", "color": "black", "strokeWidth": 4, "strokeDash": [4, 8.7]}, "encoding": {"x": {"datum": 1.02e-6, "axis": null}}},
      {"data": {"values": [{}]}, "mark": {"type": "rule", "color": "black", "strokeWidth": 4.7, "strokeDash": [17, 7]}, "encoding": {"x": {"datum": 190, "axis": null}}},
      {"data": {"values": [{}]}, "mark": {"type": "rect", "filled": false, "color": "black", "strokeWidth": 2.5}, "encoding": {}},
      {"data": {"values": [{}]}, "mark": {"type": "text", "text": "(b)", "fontSize": 35, "fontWeight": "bold", "align": "left", "baseline": "alphabetic", "dx": -159.8, "dy": -29, "color": "black"}, "encoding": {"x": {"datum": 1e-7, "axis": null}, "y": {"datum": 1e-8, "axis": null}}},
      {"data": {"values": [{}]}, "mark": {"type": "text", "text": "D", "fontSize": 35, "align": "left", "baseline": "alphabetic", "dx": 23.5, "dy": -18.7, "color": "black"}, "encoding": {"x": {"datum": 1e-7, "axis": null}, "y": {"datum": 1e-8, "axis": null}}},
      {"data": {"values": [{}]}, "mark": {"type": "text", "text": "MD", "fontSize": 25, "fontStyle": "italic", "align": "left", "baseline": "alphabetic", "dx": 52, "dy": -41.7, "color": "black"}, "encoding": {"x": {"datum": 1e-7, "axis": null}, "y": {"datum": 1e-8, "axis": null}}},
      {"data": {"values": [{}]}, "mark": {"type": "text", "text": "H₂O₂", "fontSize": 27, "fontStyle": "italic", "align": "left", "baseline": "alphabetic", "dx": 51.5, "dy": -7.7, "color": "black"}, "encoding": {"x": {"datum": 1e-7, "axis": null}, "y": {"datum": 1e-8, "axis": null}}},
      {"data": {"values": [{}]}, "mark": {"type": "text", "text": "=", "fontSize": 35, "align": "left", "baseline": "alphabetic", "dx": 131.3, "dy": -18.7, "color": "black"}, "encoding": {"x": {"datum": 1e-7, "axis": null}, "y": {"datum": 1e-8, "axis": null}}},
      {"data": {"values": [{}]}, "mark": {"type": "text", "text": "6.0\u2009·\u200910", "fontSize": 35, "align": "left", "baseline": "alphabetic", "dx": 173.4, "dy": -18.7, "color": "black"}, "encoding": {"x": {"datum": 1e-7, "axis": null}, "y": {"datum": 1e-8, "axis": null}}},
      {"data": {"values": [{}]}, "mark": {"type": "text", "text": "−10", "fontSize": 24, "align": "left", "baseline": "alphabetic", "dx": 296, "dy": -40.7, "color": "black"}, "encoding": {"x": {"datum": 1e-7, "axis": null}, "y": {"datum": 1e-8, "axis": null}}},
      {"data": {"values": [{}]}, "mark": {"type": "text", "text": "m", "fontSize": 35, "align": "left", "baseline": "alphabetic", "dx": 353.9, "dy": -18.7, "color": "black"}, "encoding": {"x": {"datum": 1e-7, "axis": null}, "y": {"datum": 1e-8, "axis": null}}},
      {"data": {"values": [{}]}, "mark": {"type": "text", "text": "2", "fontSize": 24, "align": "left", "baseline": "alphabetic", "dx": 390.5, "dy": -37.7, "color": "black"}, "encoding": {"x": {"datum": 1e-7, "axis": null}, "y": {"datum": 1e-8, "axis": null}}},
      {"data": {"values": [{}]}, "mark": {"type": "text", "text": "s", "fontSize": 35, "align": "left", "baseline": "alphabetic", "dx": 415.5, "dy": -18.7, "color": "black"}, "encoding": {"x": {"datum": 1e-7, "axis": null}, "y": {"datum": 1e-8, "axis": null}}},
      {"data": {"values": [{}]}, "mark": {"type": "text", "text": "−1", "fontSize": 24, "align": "left", "baseline": "alphabetic", "dx": 434, "dy": -37.7, "color": "black"}, "encoding": {"x": {"datum": 1e-7, "axis": null}, "y": {"datum": 1e-8, "axis": null}}}
    ]
  },
  {
    "width": 28, "height": 526,
    "layer": [
      {"data": {"name": "cbar"}, "mark": {"type": "rect", "strokeWidth": 0.6},
       "encoding": {
         "y": {"field": "c0", "type": "quantitative", "scale": {"type": "log", "domain": [1e-6, 1], "nice": false},
               "axis": {"orient": "right", "values": [1e-6, 1e-5, 1e-4, 1e-3, 0.01, 0.1, 1], "labelExpr": "['10⁻⁶','10⁻⁵','10⁻⁴','10⁻³','10⁻²','10⁻¹','10⁰'][round(log(datum.value)/LN10)+6]", "tickSize": 8, "labelPadding": 6, "title": "H₂O₂ concentration / M", "titleAngle": 270, "titleBaseline": "top", "titlePadding": 20}},
         "y2": {"field": "c1"},
         "color": {"field": "c", "type": "quantitative", "scale": {"type": "log", "domain": [1e-6, 1], "scheme": "viridis"}, "legend": null},
         "stroke": {"field": "c", "type": "quantitative", "scale": {"type": "log", "domain": [1e-6, 1], "scheme": "viridis"}, "legend": null}}},
      {"data": {"values": [{}]}, "mark": {"type": "rect", "filled": false, "color": "black", "strokeWidth": 2}, "encoding": {}}
    ]
  }
]
}
